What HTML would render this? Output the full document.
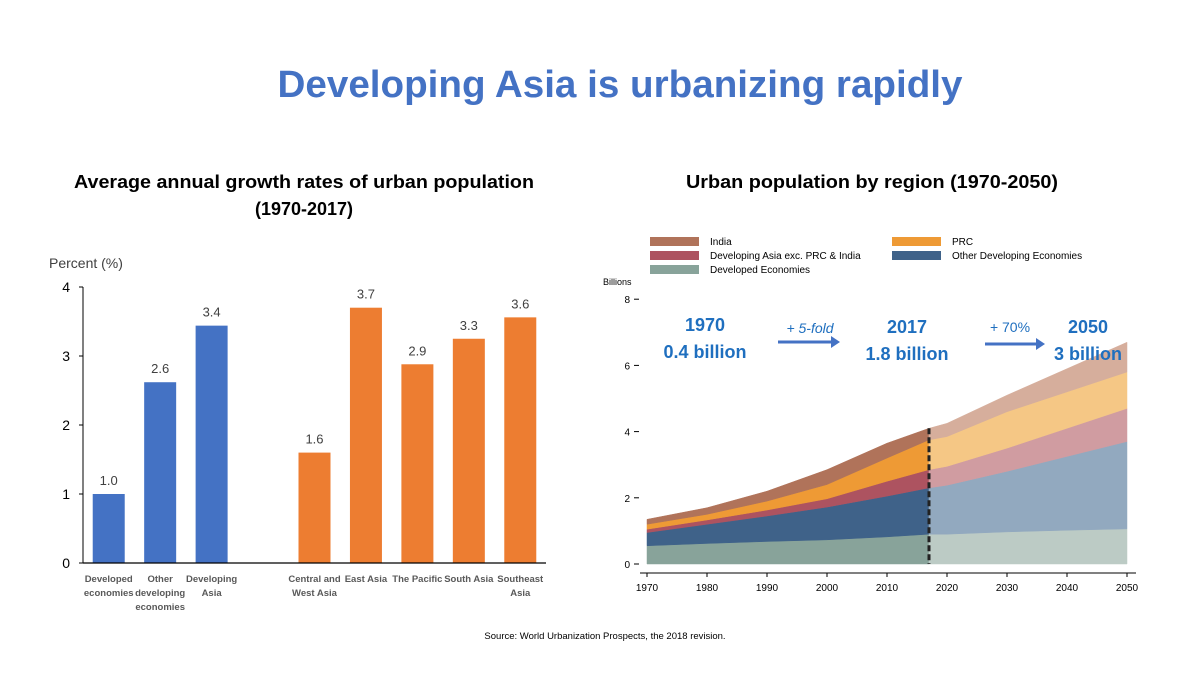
<!DOCTYPE html>
<html><head><meta charset="utf-8"><style>
html,body{margin:0;padding:0;background:#fff;}
svg{display:block;font-family:"Liberation Sans",sans-serif;}
</style></head><body>
<svg id="root" width="1200" height="675" viewBox="0 0 1200 675">
<text x="620" y="97" text-anchor="middle" font-size="38" font-weight="bold" fill="#4472c4" textLength="685" lengthAdjust="spacingAndGlyphs">Developing Asia is urbanizing rapidly</text>
<text x="304" y="188" text-anchor="middle" font-size="18" font-weight="bold" fill="#000" textLength="460" lengthAdjust="spacingAndGlyphs">Average annual growth rates of urban population</text>
<text x="304" y="215" text-anchor="middle" font-size="18" font-weight="bold" fill="#000">(1970-2017)</text>
<text x="872" y="188" text-anchor="middle" font-size="18" font-weight="bold" fill="#000" textLength="372" lengthAdjust="spacingAndGlyphs">Urban population by region (1970-2050)</text>
<text x="49" y="268" font-size="14" fill="#404040">Percent (%)</text>
<g id="bars"></g>
<g id="area"></g>
<text x="605" y="639" text-anchor="middle" font-size="9.5" fill="#000">Source: World Urbanization Prospects, the 2018 revision.</text>
</svg>
<script>
const NS="http://www.w3.org/2000/svg";
function mk(parent,tag,attrs,txt){const e=document.createElementNS(NS,tag);for(const k in attrs)e.setAttribute(k,attrs[k]);if(txt!==undefined)e.textContent=txt;parent.appendChild(e);return e;}

// ---- bar chart data ----
const barCategories=[["Developed","economies"],["Other","developing","economies"],["Developing","Asia"],null,["Central and","West Asia"],["East Asia"],["The Pacific"],["South Asia"],["Southeast","Asia"]];
const barValues=[1.0,2.62,3.44,null,1.6,3.7,2.88,3.25,3.56];
const barLabels=["1.0","2.6","3.4",null,"1.6","3.7","2.9","3.3","3.6"];
const barGroup=["world","world","world",null,"asia","asia","asia","asia","asia"];
const barTicks=[0,1,2,3,4];

const bg=document.getElementById('bars');
const bx0=83,bx1=546,by0=563,byPerUnit=69;
const slotW=(bx1-bx0)/barCategories.length;
const yB=v=>by0-v*byPerUnit;
const xB=i=>bx0+slotW*(i+0.5);
mk(bg,'line',{x1:bx0,y1:yB(4),x2:bx0,y2:by0,stroke:'#000','stroke-width':1});
barTicks.forEach(t=>{
  mk(bg,'line',{x1:bx0-4,y1:yB(t),x2:bx0,y2:yB(t),stroke:'#000'});
  const l=mk(bg,'text',{x:bx0-13,y:yB(t)+5,'text-anchor':'end','font-size':14,fill:'#000'},t);
  
  
});
barValues.forEach((v,i)=>{
  if(v===null)return;
  const r=mk(bg,'rect',{x:xB(i)-16,y:yB(v),width:32,height:v*byPerUnit,fill:barGroup[i]==='world'?'#4472c4':'#ed7d31'});
  
  
  const t=mk(bg,'text',{x:xB(i),y:yB(v)-9,'text-anchor':'middle','font-size':13,fill:'#404040'},barLabels[i]);
  
  
  barCategories[i].forEach((ln,j)=>{
    const c=mk(bg,'text',{x:xB(i),y:582+j*14,'text-anchor':'middle','font-size':9.5,'font-weight':'bold',fill:'#595959'},ln);
    
    
  });
});
mk(bg,'line',{x1:bx0,y1:by0,x2:bx1,y2:by0,stroke:'#000','stroke-width':1.2});

// ---- area chart data ----
const years=[1970,1980,1990,2000,2010,2017,2020,2030,2040,2050];
const developed=[0.55,0.62,0.68,0.73,0.82,0.9,0.9,0.97,1.02,1.06];
const otherDev=[0.4,0.58,0.77,0.99,1.23,1.4,1.48,1.83,2.23,2.64];
const devAsia=[0.1,0.13,0.18,0.25,0.45,0.55,0.57,0.7,0.85,1.0];
const prc=[0.15,0.17,0.27,0.43,0.7,0.9,0.9,1.1,1.1,1.1];
const india=[0.15,0.2,0.3,0.45,0.45,0.35,0.4,0.5,0.7,0.9];
const xTicks=[1970,1980,1990,2000,2010,2020,2030,2040,2050];
const yTicks=[0,2,4,6,8];
const splitYear=2017;

const ag=document.getElementById('area');
const ax0=647,ax1=1127,ay0=564,ayPer=33.1;
const xA=yr=>ax0+(yr-1970)/(2050-1970)*(ax1-ax0);
const yA=v=>ay0-v*ayPer;
const series=[
 {name:'developed',vals:developed,c:'#88a39a',l:'#bccbc5'},
 {name:'other-developing',vals:otherDev,c:'#3f6289',l:'#92a9bf'},
 {name:'developing-asia-exc',vals:devAsia,c:'#ad5360',l:'#d09ca1'},
 {name:'prc',vals:prc,c:'#ee9a35',l:'#f5c785'},
 {name:'india',vals:india,c:'#b0735a',l:'#d6ae9c'}];
const base=years.map(()=>0);
const si=years.indexOf(splitYear);
series.forEach(s=>{
  const top=base.map((b,i)=>b+s.vals[i]);
  [[0,si,s.c,'past'],[si,years.length-1,s.l,'projection']].forEach(([a,b,col,tag])=>{
    let pts=[];
    for(let i=a;i<=b;i++)pts.push(xA(years[i])+','+yA(top[i]));
    for(let i=b;i>=a;i--)pts.push(xA(years[i])+','+yA(base[i]));
    const p=mk(ag,'polygon',{points:pts.join(' '),fill:col,stroke:col,'stroke-width':0.5});
    
    
  });
  top.forEach((v,i)=>base[i]=v);
});
const dl=mk(ag,'line',{x1:xA(splitYear),y1:yA(base[si]),x2:xA(splitYear),y2:ay0,stroke:'#222','stroke-width':3,'stroke-dasharray':'6,3'});


mk(ag,'line',{x1:640,y1:573,x2:1136,y2:573,stroke:'#000','stroke-width':1});
xTicks.forEach(t=>{
  mk(ag,'line',{x1:xA(t),y1:573,x2:xA(t),y2:577,stroke:'#000'});
  const l=mk(ag,'text',{x:xA(t),y:591,'text-anchor':'middle','font-size':10,fill:'#000'},t);
  
  
});
yTicks.forEach(t=>{
  mk(ag,'line',{x1:634,y1:yA(t),x2:639,y2:yA(t),stroke:'#000'});
  const l=mk(ag,'text',{x:630,y:yA(t)+4,'text-anchor':'end','font-size':10,fill:'#000'},t);
  
  
});
const bl=mk(ag,'text',{x:603,y:285,'font-size':9,fill:'#000'},'Billions');


const legend=[[650,237,'#b0735a','India'],[892,237,'#ee9a35','PRC'],[650,251,'#ad5360','Developing Asia exc. PRC & India'],[892,251,'#3f6289','Other Developing Economies'],[650,265,'#88a39a','Developed Economies']];
legend.forEach(([x,y,c,t])=>{
  const g=mk(ag,'g',{});
  
  
  mk(g,'rect',{x:x,y:y,width:49,height:9,fill:c});
  mk(g,'text',{x:x+60,y:y+8,'font-size':10,fill:'#000'},t);
});
const ann=[[705,331,'1970',18,'bold','normal'],[705,358,'0.4 billion',18,'bold','normal'],[907,333,'2017',18,'bold','normal'],[907,360,'1.8 billion',18,'bold','normal'],[1088,333,'2050',18,'bold','normal'],[1088,360,'3 billion',18,'bold','normal'],[810,333,'+ 5-fold',14,'normal','italic'],[1010,332,'+ 70%',14,'normal','normal']];
ann.forEach(([x,y,t,fs,fw,st])=>{
  const e=mk(ag,'text',{x:x,y:y,'text-anchor':'middle','font-size':fs,'font-weight':fw,'font-style':st,fill:'#1f6fbf'},t);
  
  
});
[[778,840,342],[985,1045,344]].forEach(([a,b,y])=>{
  const g=mk(ag,'g',{});
  
  
  mk(g,'line',{x1:a,y1:y,x2:b-8,y2:y,stroke:'#4472c4','stroke-width':3});
  mk(g,'polygon',{points:(b-9)+','+(y-6)+' '+b+','+y+' '+(b-9)+','+(y+6),fill:'#4472c4'});
});
</script>
</body></html>
